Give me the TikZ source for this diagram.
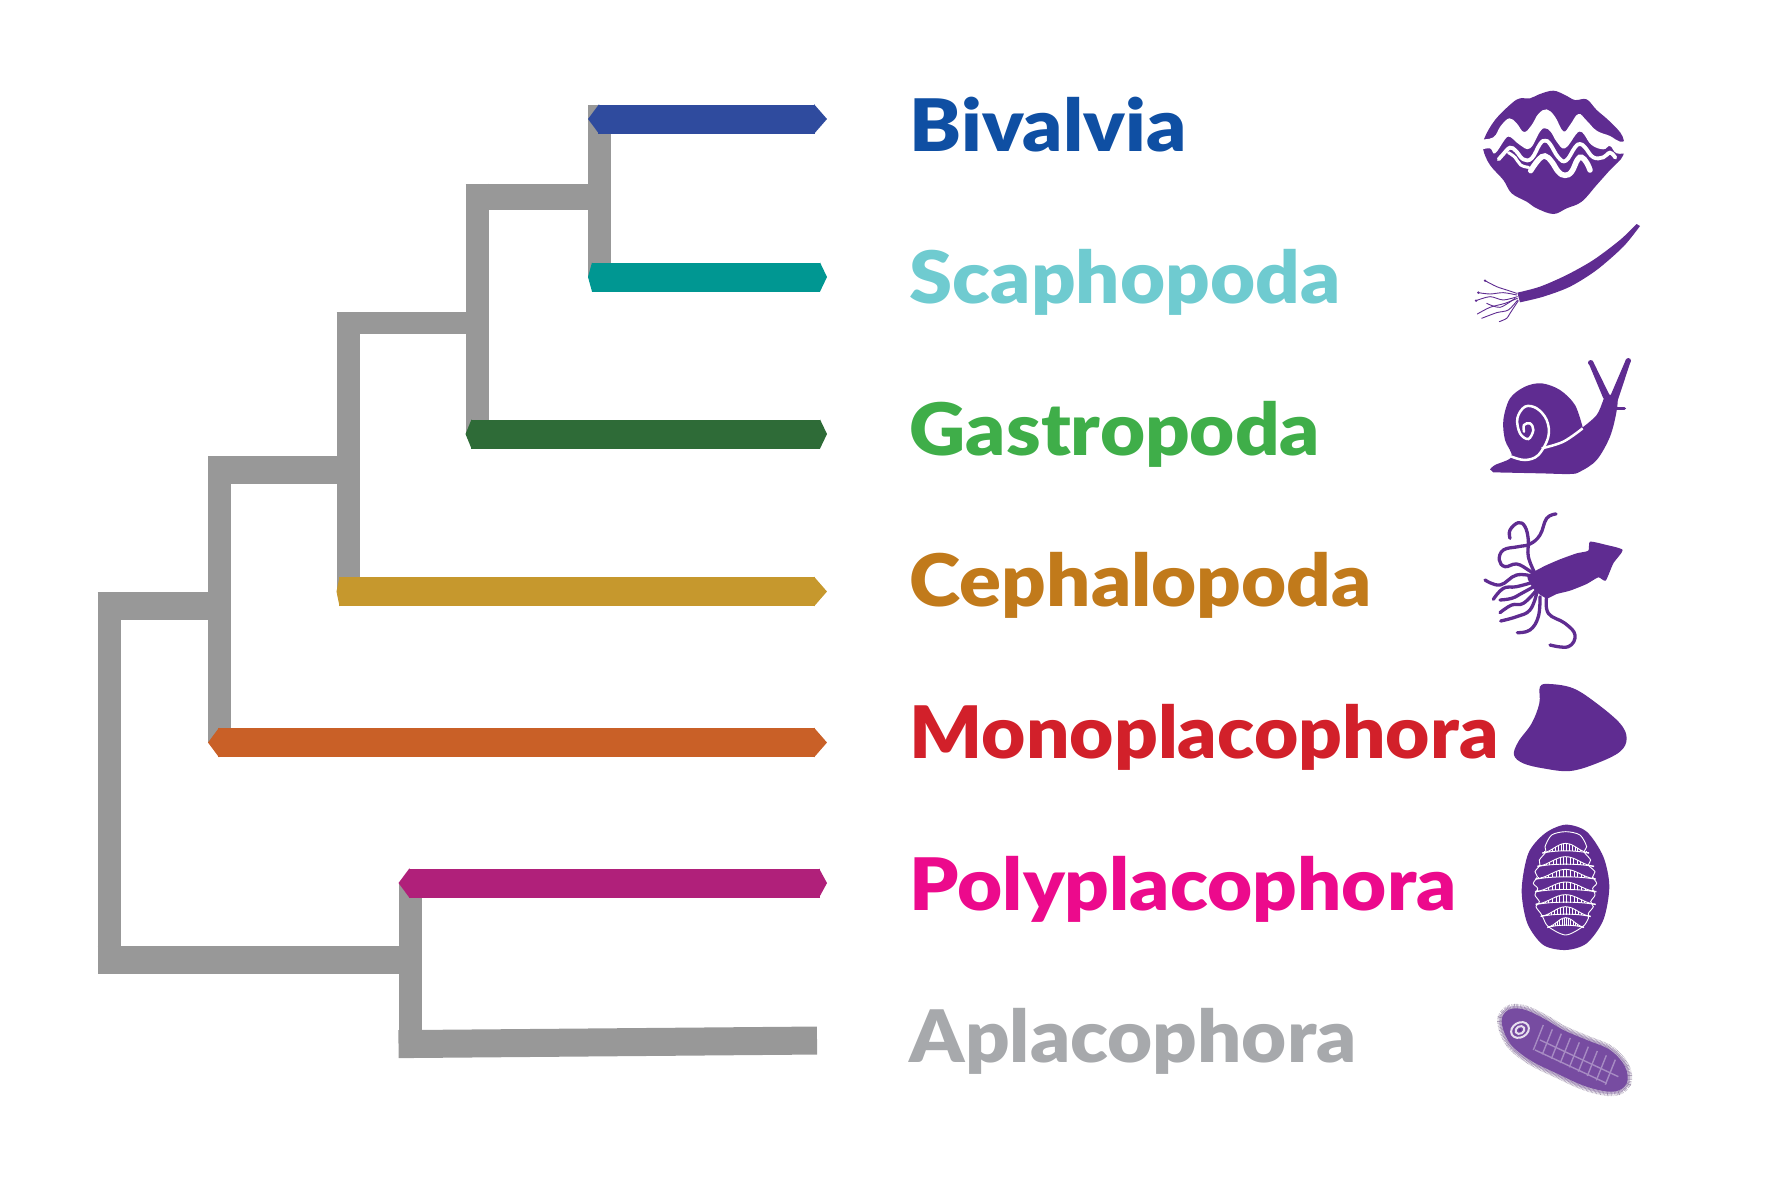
\documentclass[tikz,border=0pt]{standalone}
\usepackage{fontspec}
\setmainfont{Lato Black}[FakeStretch=1.075]
\newfontfamily\tightblack{Lato Black}[FakeStretch=1.055]
\usepackage{tikz}
\usetikzlibrary{arrows.meta}

\definecolor{treegray}{HTML}{989898}
\definecolor{barblue}{HTML}{2F4B9E}
\definecolor{barteal}{HTML}{009792}
\definecolor{bargreen}{HTML}{2E6B37}
\definecolor{baryellow}{HTML}{C6982D}
\definecolor{barorange}{HTML}{C96027}
\definecolor{barmagenta}{HTML}{B0207A}
\definecolor{txtblue}{HTML}{0F4FA3}
\definecolor{txtteal}{HTML}{6FCBD0}
\definecolor{txtgreen}{HTML}{3FAE49}
\definecolor{txtbrown}{HTML}{C17A1B}
\definecolor{txtred}{HTML}{D2202A}
\definecolor{txtpink}{HTML}{EC0A8C}
\definecolor{txtgray}{HTML}{A7A9AC}
\definecolor{iconpurple}{HTML}{5F2C91}

\tikzset{
	branch/.style={line width=2.8mm, treegray, shorten <=-1.15mm, shorten >=-1.15mm},
	stem/.style={line width=2.3mm, treegray, shorten <=-1.35mm},
	tipbar/.style={line width=2.9mm, shorten <=-1.15mm},
	taxon/.style={anchor=base west, inner sep=0pt, font=\fontsize{20.6pt}{24pt}\selectfont},
	icon/.style={fill=iconpurple, draw=none},
	arm/.style={draw=iconpurple, line width=0.33mm, line cap=round, line join=round},
	hair/.style={draw=iconpurple, line width=0.09mm, line cap=round},
	fine/.style={draw=white, line width=0.09mm}
}

\begin{document}
\begin{tikzpicture}[x=0.1mm, y=-0.1mm]
	\useasboundingbox (0,0) rectangle (1768,1181);
	% junctions of the tree
	\coordinate (rootup) at (109,606);
	\coordinate (rootdown) at (109,960);
	\coordinate (joinA) at (219.5,606);
	\coordinate (joinB) at (219.5,470);
	\coordinate (joinC) at (348,470);
	\coordinate (joinD) at (348,323);
	\coordinate (joinE) at (477,323);
	\coordinate (joinF) at (477,197);
	\coordinate (joinG) at (599.5,197);
	\coordinate (joinH) at (410,960);
	\coordinate (baseBiv) at (599.5,119);
	\coordinate (baseSca) at (599.5,277);
	\coordinate (baseGas) at (477,434);
	\coordinate (baseCep) at (348,591.5);
	\coordinate (baseMon) at (219.5,742.5);
	\coordinate (basePol) at (410,883);
	\coordinate (baseApl) at (410,1044);
	\coordinate (tipBiv) at (827,119);
	\coordinate (tipSca) at (827,277);
	\coordinate (tipGas) at (827,434);
	\coordinate (tipCep) at (827,591.5);
	\coordinate (tipMon) at (827,742.5);
	\coordinate (tipPol) at (827,883);
	\coordinate (tipApl) at (817,1040.5);
	% grey branches
	\draw[stem, shorten <=0pt, shorten >=-1.4mm] (rootup) ++(0,-14) -- (rootdown);
	\draw[branch] (rootup) -- (joinA);
	\draw[branch] (rootdown) -- (joinH);
	\draw[stem, shorten <=-1.4mm] (joinB) -- (baseMon);
	\draw[branch] (joinB) -- (joinC);
	\draw[stem, shorten <=-1.1mm] (joinD) -- (baseCep);
	\draw[branch, line width=2.2mm] (joinD) -- (joinE);
	\draw[stem] (joinF) -- (baseGas);
	\draw[branch, line width=2.6mm] (joinF) -- (joinG);
	\draw[stem, shorten <=0pt] (baseBiv) ++(0,-14) -- (baseSca);
	\draw[stem, shorten <=0pt] (basePol) -- (baseApl);
	\draw[branch, shorten >=0pt] (baseApl) -- (tipApl);
	% coloured tips
	\draw[tipbar, barblue, {Triangle[length=1.1mm,width=2.9mm]}-{Triangle[length=1.3mm,width=2.9mm]}] (baseBiv) -- (tipBiv);
	\draw[tipbar, barteal, {Triangle[length=0.4mm,width=2.9mm]}-{Triangle[length=0.7mm,width=2.9mm]}] (baseSca) -- (tipSca);
	\draw[tipbar, bargreen, {Triangle[length=0.6mm,width=2.9mm]}-{Triangle[length=0.7mm,width=2.9mm]}] (baseGas) -- (tipGas);
	\draw[tipbar, baryellow, {Triangle[length=0.3mm,width=2.9mm]}-{Triangle[length=1.3mm,width=2.9mm]}] (baseCep) -- (tipCep);
	\draw[tipbar, barorange, {Triangle[length=1.1mm,width=2.9mm]}-{Triangle[length=1.3mm,width=2.9mm]}] (baseMon) -- (tipMon);
	\draw[tipbar, barmagenta, {Triangle[length=1.1mm,width=2.9mm]}-{Triangle[length=0.8mm,width=2.9mm]}] (basePol) -- (tipPol);
	% names
	\node[taxon, txtblue] (nameBiv) at (909,151) {Bivalvia};
	\node[taxon, txtteal] (nameSca) at (909,303) {Scaphopoda};
	\node[taxon, txtgreen] (nameGas) at (909,455) {Gastropoda};
	\node[taxon, txtbrown] (nameCep) at (909,606) {Cephalopoda};
	\node[taxon, txtred] (nameMon) at (909,758) {\tightblack Monoplacophora};
	\node[taxon, txtpink] (namePol) at (909,910) {Polyplacophora};
	\node[taxon, txtgray] (nameApl) at (909,1062) {Aplacophora};
	% clam and tusk shell
	\begin{scope}[shift={(1440,70)}, scale=0.3333]
		\fill[icon] plot[smooth cycle, tension=0.6] coordinates {(133,205) (165,150) (215,100) (240,85) (270,85) (300,72) (340,62) (375,75) (405,90) (440,88) (470,120) (510,155) (548,200) (550,255) (510,300) (470,345) (425,395) (380,415) (340,432) (290,415) (260,395) (215,370) (190,330) (150,285) (130,240)};
		\fill[white] plot[smooth, tension=0.7] coordinates {(120,208) (160,202) (182,168) (208,145) (230,160) (252,186) (275,165) (295,132) (320,118) (345,140) (370,184) (390,165) (415,132) (440,152) (470,182) (510,198) (540,215) (565,208)} -- plot[smooth, tension=0.7] coordinates {(565,248) (530,250) (510,228) (490,238) (455,225) (432,193) (420,185) (408,193) (375,235) (350,215) (332,185) (315,175) (300,185) (270,235) (240,225) (220,208) (207,200) (195,208) (165,250) (150,235) (120,240)} -- cycle;
		\draw[white, line width=0.38mm, line cap=round] plot[smooth, tension=0.7] coordinates {(176,268) (190,252) (210,233) (228,243) (250,268) (275,265) (300,222) (315,212) (330,222) (355,262) (378,272) (405,232) (420,222) (435,232) (460,262) (490,262) (510,248) (526,263)};
		\draw[white, line width=0.55mm, line cap=round] plot[smooth, tension=0.7] coordinates {(272,302) (295,270) (315,258) (335,275) (355,305) (375,316) (395,305) (412,270) (425,262) (440,278) (450,300)};
		\draw[white, line width=0.3mm, line cap=round] plot[smooth, tension=0.7] coordinates {(205,248) (225,262) (242,285) (266,292)};
		% tusk
		\fill[icon] plot[smooth, tension=0.5] coordinates {(232,668) (300,650) (380,615) (460,570) (540,510) (590,462)} -- (600,468) -- plot[smooth, tension=0.5] coordinates {(600,468) (550,530) (470,600) (390,650) (310,680) (240,697)} -- cycle;
		\draw[hair] plot[smooth] coordinates {(230,670) (200,660) (170,650) (135,632)};
		\draw[hair] plot[smooth] coordinates {(230,675) (190,668) (150,672) (115,668)};
		\draw[hair] plot[smooth] coordinates {(232,680) (190,690) (150,680) (108,692)};
		\draw[hair] plot[smooth] coordinates {(232,685) (195,700) (150,712) (112,732)};
		\draw[hair] plot[smooth] coordinates {(233,690) (205,720) (170,728) (125,745)};
		\draw[hair] plot[smooth] coordinates {(235,692) (210,730) (200,745) (178,755)};
		\draw[hair] plot[smooth] coordinates {(225,685) (180,712) (140,700)};
		\fill[icon] (135,632) circle (4) (115,668) circle (4) (108,692) circle (4);
	\end{scope}
	% snail
	\begin{scope}[shift={(1440,340)}, scale=0.3333]
		\fill[icon] plot[smooth, tension=0.55] coordinates {(150,388) (165,375) (215,350) (195,300) (190,240) (210,175) (255,140) (305,130) (360,150) (405,195) (428,262)} -- plot[smooth, tension=0.55] coordinates {(428,262) (470,225) (490,180) (497,165) (530,170) (530,212) (510,290) (470,360) (420,395) (390,402) (300,400) (160,397)} -- cycle;
		\fill[icon] (446,70) -- (458,62) -- (510,168) -- (490,175) -- cycle;
		\fill[icon] (558,58) -- (572,64) -- (532,185) -- (510,170) -- cycle;
		\draw[arm, line width=0.35mm] (520,205) -- (553,205);
		\fill[icon] (452,68) circle (8) (565,62) circle (8);
		\draw[white, line width=0.25mm, line cap=round] plot[smooth, tension=0.6] coordinates {(215,350) (255,360) (295,345) (325,290) (320,240) (290,205) (255,200) (232,235) (240,280) (265,297) (280,270) (270,250) (252,255) (252,275)};
		\draw[white, line width=0.25mm] plot[smooth, tension=0.6] coordinates {(305,325) (370,305) (428,265)};
	\end{scope}
	% squid
	\begin{scope}[shift={(1440,340)}, scale=0.3333]
		\fill[icon] plot[smooth cycle, tension=0.35] coordinates {(310,680) (360,658) (410,640) (445,632) (450,605) (500,615) (548,630) (520,670) (497,722) (475,712) (440,732) (390,752) (350,762) (320,775) (285,752) (262,710)};
		\draw[arm] plot[smooth, tension=0.7] coordinates {(285,700) (265,650) (265,600) (255,560) (235,548) (210,570) (210,595)};
		\draw[arm] plot[smooth, tension=0.7] coordinates {(285,705) (265,690) (230,672) (195,680) (178,660) (190,630) (235,620) (270,612) (300,585) (320,535) (348,522)};
		\draw[arm] plot[smooth, tension=0.7] coordinates {(285,710) (230,705) (180,735) (135,720)};
		\draw[arm] plot[smooth, tension=0.7] coordinates {(285,725) (230,740) (190,745) (160,778)};
		\draw[arm] plot[smooth, tension=0.7] coordinates {(290,735) (245,760) (215,775) (180,780)};
		\draw[arm] plot[smooth, tension=0.7] coordinates {(290,750) (250,790) (215,795) (180,818)};
		\draw[arm] plot[smooth, tension=0.7] coordinates {(290,760) (270,810) (230,830) (182,843)};
		\draw[arm] plot[smooth, tension=0.7] coordinates {(300,770) (295,830) (270,870) (232,878)};
		\draw[arm] plot[smooth, tension=0.7] coordinates {(320,770) (325,820) (375,850) (405,885) (385,920) (330,915)};
	\end{scope}
	% limpet, chiton, worm
	\begin{scope}[shift={(1440,670)}, scale=0.3333]
		\fill[icon] plot[smooth cycle, tension=0.6] coordinates {(300,50) (330,42) (400,55) (470,100) (540,160) (560,205) (540,245) (470,280) (390,303) (310,295) (250,280) (222,255) (235,215) (275,160) (298,100)};
		% chiton
		\fill[icon] plot[smooth cycle] coordinates {(377,464) (440,485) (490,560) (508,650) (490,750) (440,820) (377,840) (310,825) (262,760) (245,660) (265,550) (315,490)};
		\draw[fine] plot[smooth cycle, tension=0.5] coordinates {(377,485) (420,495) (440,530) (432,545) (452,570) (445,585) (465,605) (458,620) (470,640) (458,655) (465,675) (452,695) (460,710) (445,730) (445,745) (428,770) (377,795) (325,770) (310,745) (302,730) (288,710) (298,695) (285,675) (293,655) (280,640) (292,620) (285,605) (300,585) (298,570) (318,545) (315,530) (335,495)};
		\foreach \py/\pw in {552/70, 592/85, 630/90, 668/92, 706/90, 742/75, 775/55} {
			\draw[fine] plot[smooth, domain=-1:1, samples=13] ({377+\x*\pw},{\py-4-28*cos(90*\x)*cos(90*\x)});
			\draw[fine] (377-\pw,\py-2) .. controls (377-\pw/2,\py-12) and (377+\pw/2,\py-12) .. (377+\pw,\py-2);
			\foreach \t in {-0.92,-0.8,...,0.95} {
				\draw[fine] ({377+\t*\pw},{\py-4-28*cos(90*\t)*cos(90*\t)}) -- ({377+\t*\pw},{\py-8});
			}
		}
		% worm
		\draw[draw=iconpurple!30!white, line width=0.5mm] plot[smooth cycle, tension=0.6] coordinates {(185,1055) (205,1020) (250,1018) (310,1045) (370,1080) (440,1110) (510,1140) (555,1190) (560,1240) (520,1265) (440,1250) (350,1210) (270,1170) (210,1120)};
		\draw[draw=iconpurple!40!gray, line width=0.9mm, dash pattern=on 0.05mm off 0.08mm, opacity=0.6] plot[smooth cycle, tension=0.6] coordinates {(185,1055) (205,1020) (250,1018) (310,1045) (370,1080) (440,1110) (510,1140) (555,1190) (560,1240) (520,1265) (440,1250) (350,1210) (270,1170) (210,1120)};
		\fill[iconpurple!85!white] plot[smooth cycle, tension=0.6] coordinates {(185,1055) (205,1020) (250,1018) (310,1045) (370,1080) (440,1110) (510,1140) (555,1190) (560,1240) (520,1265) (440,1250) (350,1210) (270,1170) (210,1120)};
		\draw[iconpurple!55!white, line width=0.14mm] (300,1110) -- (535,1220) (285,1140) -- (500,1240);
		\foreach \g in {0,1,...,8} {
			\draw[iconpurple!55!white, line width=0.14mm] ({310+\g*27},{1065+\g*13}) -- ({280+\g*27},{1140+\g*13});
		}
		\draw[iconpurple!15!white, line width=0.2mm, rotate around={30:(240,1080)}] (240,1080) ellipse (28 and 22) (240,1080) ellipse (14 and 11);
		\fill[iconpurple] (240,1080) circle (5);
	\end{scope}
\end{tikzpicture}
\end{document}
